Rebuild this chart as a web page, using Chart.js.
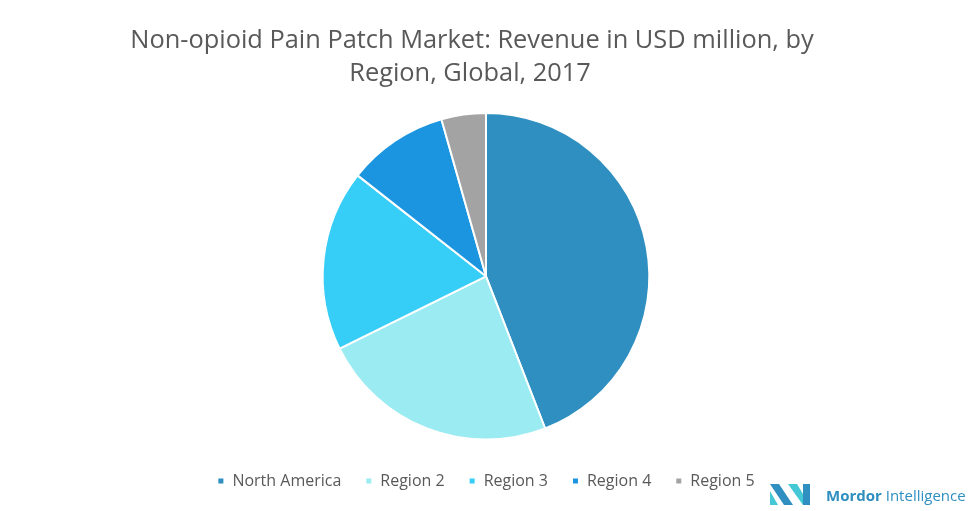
<!DOCTYPE html>
<html>
<head>
<meta charset="utf-8">
<script src="https://cdn.jsdelivr.net/npm/chart.js@4.4.0/dist/chart.umd.min.js"></script>
<style>
  html, body { margin: 0; padding: 0; background: #fff; }
  #wrap { width: 972px; height: 511px; position: relative; }
</style>
</head>
<body>
<div id="wrap"><canvas id="chart" width="972" height="511"></canvas></div>
<script>
// ── Data ─────────────────────────────────────────────
const regions = ['North America', 'Region 2', 'Region 3', 'Region 4', 'Region 5'];
const shares  = [44.1, 23.6, 17.9, 10.0, 4.4];
const colors  = ['#2E8FC0', '#9BEBF2', '#36CDF7', '#1C95E0', '#A3A3A3'];
const titleLines = ['Non-opioid Pain Patch Market: Revenue in USD million, by', 'Region, Global, 2017'];

const FONT = '"Open Sans", "Noto Sans", sans-serif';

// ── Title + logo drawn on top of the canvas ──────────
const decor = {
  id: 'decor',
  afterDraw(chart) {
    const ctx = chart.ctx;
    ctx.save();
    ctx.fillStyle = '#595959';
    ctx.font = '25.4px ' + FONT;
    ctx.textAlign = 'center';
    ctx.textBaseline = 'alphabetic';
    ctx.fillText(titleLines[0], 472, 48);
    ctx.fillText(titleLines[1], 470, 81);

    // logo mark
    const poly = (pts, c) => {
      ctx.fillStyle = c; ctx.beginPath();
      pts.forEach((p, i) => i ? ctx.lineTo(p[0], p[1]) : ctx.moveTo(p[0], p[1]));
      ctx.closePath(); ctx.fill();
    };
    poly([[770, 491], [770, 505], [778, 505]], '#45C8D6');
    poly([[770, 484], [779, 484], [793, 505], [784, 505]], '#2E8FC0');
    poly([[788, 484], [797, 484], [803, 494], [803, 505]], '#45C8D6');
    poly([[803, 484], [810, 484], [810, 505], [803, 505]], '#2E8FC0');

    ctx.textAlign = 'left';
    ctx.fillStyle = '#2E8FC0';
    ctx.font = 'bold 15px ' + FONT;
    ctx.fillText('Mordor', 826, 501);
    const w = ctx.measureText('Mordor ').width;
    ctx.font = '15px ' + FONT;
    ctx.fillText('Intelligence', 826 + w, 501);
    ctx.restore();
  }
};

new Chart(document.getElementById('chart'), {
  type: 'pie',
  data: {
    labels: regions,
    datasets: [{ data: shares, backgroundColor: colors, borderColor: '#fff', borderWidth: 2 }]
  },
  options: {
    responsive: false,
    animation: false,
    layout: { padding: { top: 112, bottom: 12 } },
    plugins: {
      tooltip: { enabled: false },
      legend: {
        position: 'bottom',
        // empty legend title only used as spacer above the items
        title: { display: true, text: ' ', font: { size: 2 }, padding: { top: 0, bottom: 6 } },
        labels: {
          boxWidth: 7, boxHeight: 7, padding: 24,
          color: '#595959',
          font: { family: FONT, size: 16 }
        }
      }
    }
  },
  plugins: [decor]
});
</script>
</body>
</html>
